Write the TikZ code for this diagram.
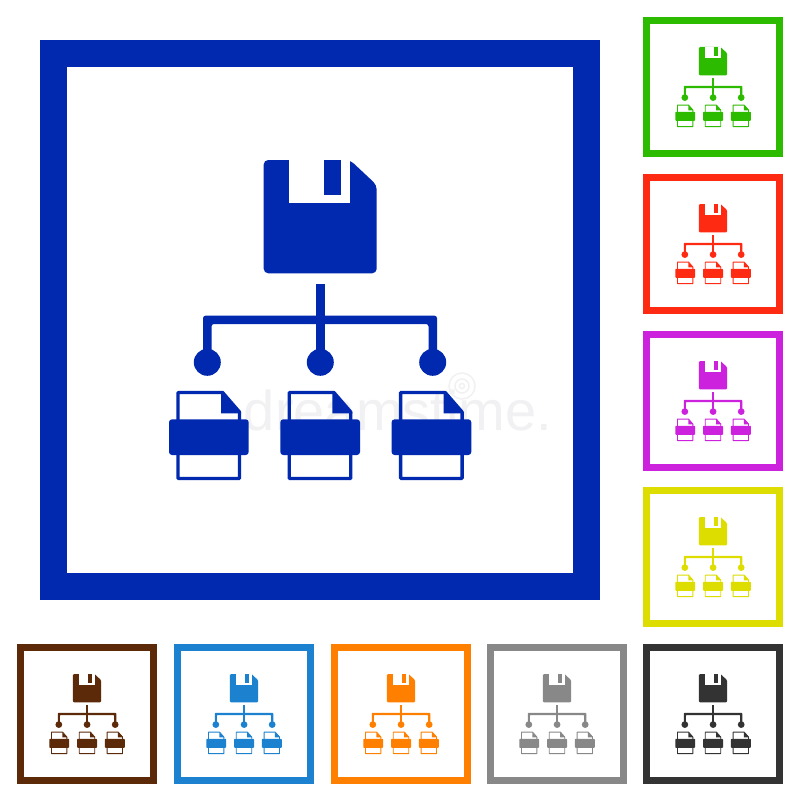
\documentclass[tikz,border=0pt]{standalone}
\usepackage{fontspec}
\setmainfont{Liberation Sans}
\definecolor{cmain}{HTML}{0029B0}
\definecolor{cgreen}{HTML}{2DBB00}
\definecolor{cred}{HTML}{FF2A12}
\definecolor{cmag}{HTML}{CC22DD}
\definecolor{cyel}{HTML}{DDDD00}
\definecolor{cbrown}{HTML}{5C2A08}
\definecolor{cblue}{HTML}{1C82D0}
\definecolor{corange}{HTML}{FF8000}
\definecolor{cgray}{HTML}{888888}
\definecolor{cdark}{HTML}{333333}
\definecolor{wmark}{HTML}{F1F1F3}
\tikzset{x=1pt,y=-1pt}
\newcommand{\filesym}[3]{%
  \begin{scope}[xshift=#1pt]
    \draw[#3,line width=3.3*#2,line join=round]
      (-142,72.4) -- (-97.5,72.4) -- (-80.5,92) -- (-80.5,158.4) -- (-142,158.4) -- cycle;
    \fill[#3] (-99,72) -- (-79,92.5) -- (-79,93.3) -- (-99,93.3) -- cycle;
    \fill[#3,rounded corners=3*#2] (-151,99.3) rectangle (-71.3,135);
  \end{scope}}
\newcommand{\myicon}[4]{% centre x, centre y, scale, colour
  \begin{scope}[shift={(#1,#2)},scale=#3]
    \fill[#4,rounded corners=4.5*#3]
      (-56.3,-160) -- (30,-160) -- (56.7,-135) -- (56.7,-46.7) -- (-56.3,-46.7) -- cycle;
    \fill[white] (-31,-160) rectangle (30,-117.3);
    \fill[#4] (4.3,-160) rectangle (21.3,-125.3);
    \fill[#4] (-4,-35.7) rectangle (4.7,42);
    \fill[#4,rounded corners=2.5*#3] (-117,-4.3) -- (117,-4.3) -- (117,42) -- (108.5,42) -- (108.5,4) -- (-108.5,4) -- (-108.5,42) -- (-117,42) -- cycle;
    \fill[#4] (-112.7,42.3) circle (13.5);
    \fill[#4] (0.3,42.3) circle (13.5);
    \fill[#4] (112.7,42.3) circle (13.5);
    \filesym{0}{#3}{#4}
    \filesym{111.3}{#3}{#4}
    \filesym{222.6}{#3}{#4}
  \end{scope}}
\newcommand{\smallicon}[3]{% left, top, colour
  \draw[#3,line width=6.7] (#1+3.35,#2+3.35) rectangle (#1+136.35,#2+136.35);
  \myicon{#1+70}{#2+70}{0.25}{#3}}
\begin{document}
\begin{tikzpicture}
\useasboundingbox (0,0) rectangle (800,800);
\fill[white] (0,0) rectangle (800,800);
% watermark
\node[text=wmark,font=\fontsize{56}{56}\selectfont,inner sep=0pt,anchor=center] (wm) at (398,410) {dreamstime.};
\draw[wmark,line width=1.5] (462,386) circle (13);
\draw[wmark,line width=1.5] (462,386) circle (7);
\draw[wmark,line width=1.5] (462,386) circle (2.5);
% main frame
\draw[cmain,line width=27] (53.5,53.5) rectangle (586.5,586.5);
\myicon{320}{320}{1}{cmain}
% right column
\smallicon{643}{17}{cgreen}
\smallicon{643}{174}{cred}
\smallicon{643}{331}{cmag}
\smallicon{643}{487}{cyel}
\smallicon{643}{644}{cdark}
% bottom row
\smallicon{17}{644}{cbrown}
\smallicon{174}{644}{cblue}
\smallicon{331}{644}{corange}
\smallicon{487}{644}{cgray}
\end{tikzpicture}
\end{document}
